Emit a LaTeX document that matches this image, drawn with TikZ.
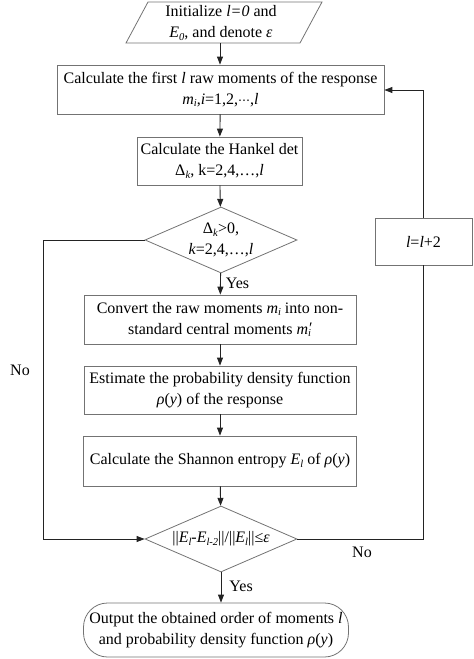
\documentclass[tikz,border=0pt]{standalone}
\usepackage{fontspec}
\setmainfont{Liberation Serif}
\newfontfamily\djs{DejaVu Sans}
\usetikzlibrary{arrows.meta,shapes.geometric}
\definecolor{boxgray}{RGB}{115,115,115}
\definecolor{linecol}{RGB}{35,35,35}
\newcommand\lo[1]{\raisebox{-0.35ex}{\fontsize{10.5}{10.5}\selectfont #1}}
\newcommand\cdotsx{{\djs\fontsize{12}{12}\selectfont ⋯}}
\begin{document}
\begin{tikzpicture}[x=1pt,y=-1pt,
  txt/.style={font=\fontsize{16}{21}\selectfont, align=center, inner sep=0pt},
  box/.style={txt, draw=boxgray, line width=0.8pt},
  dia/.style={diamond, draw=boxgray, line width=0.8pt, inner sep=0pt, minimum width=152pt, minimum height=66pt},
  arr/.style={draw=linecol, line width=0.9pt, -{Triangle[length=8pt,width=6pt]}},
  con/.style={draw=linecol, line width=0.9pt}]
\useasboundingbox (0,0) rectangle (474,659);

% start (parallelogram)
\coordinate (pbl) at (126,43);
\coordinate (ptl) at (148,2);
\coordinate (ptr) at (322,2);
\coordinate (pbr) at (300,43);
\draw[draw=boxgray, line width=0.8pt] (pbl) -- (ptl) -- (ptr) -- (pbr) -- cycle;
\node[txt] (init) at (221,23) {Initialize \textit{l=0} and\\\textit{E\lo{0}}, and denote \textit{ε}};
\coordinate (pout) at (220,43);

\node[box, minimum width=327pt, minimum height=49pt] (b1) at (220.5,89.5)
  {Calculate the first \textit{l} raw moments of the response\\\textit{m\lo{i}},\textit{i}=1,2,\cdotsx,\textit{l}};
\node[box, minimum width=165pt, minimum height=48pt] (b2) at (219.5,161)
  {Calculate the Hankel det\\Δ\lo{\textit{k}}, k=2,4,…,\textit{l}};
\node[dia] (d1) at (221,240) {};
\node[txt] (d1t) at (d1.center) {Δ\lo{\textit{k}}>0,\\\textit{k}=2,4,…,\textit{l}};
\node[box, minimum width=97pt, minimum height=47pt] (inc) at (423.5,241.5) {\textit{l}=\textit{l}+2};
\node[box, minimum width=272pt, minimum height=49pt] (b3) at (220,319.5)
  {Convert the raw moments \textit{m\lo{i}} into non-\\standard central moments \textit{m}\rlap{\lo{\textit{i}}}\raisebox{0.1ex}{\textit{′}}\hspace{2pt}};
\node[box, minimum width=272pt, minimum height=48pt] (b4) at (220,390)
  {Estimate the probability density function\\\textit{ρ}(\textit{y}) of the response};
\node[box, minimum width=273pt, minimum height=50pt] (b5) at (220,461)
  {Calculate the Shannon entropy \textit{E\lo{l}} of \textit{ρ}(\textit{y})};
\node[dia] (d2) at (221,539) {};
\node[txt] (d2t) at (d2.center) {||\textit{E\lo{l}}-\textit{E\lo{l-2}}||/||\textit{E\lo{l}}||≤\textit{ε}};
\node[box, rounded corners=24pt, minimum width=265pt, minimum height=54pt] (out) at (216,630)
  {Output the obtained order of moments \textit{l}\\and probability density function \textit{ρ}(\textit{y})};

% connectors
\draw[arr] (pout) -- (b1.north -| pout);
\draw[arr] (b1) -- (b2);
\draw[arr] (b2) -- (d1);
\draw[arr] (d1) -- node[txt, right=5pt, pos=0.45] (yes1) {Yes} (b3);
\draw[arr] (b3) -- (b4);
\draw[arr] (b4) -- (b5);
\draw[arr] (b5) -- (d2);
\draw[arr] (d2.south) -- node[txt, right=8pt, pos=0.45] (yes2) {Yes} (out.north -| d2.south);

\coordinate (lc1) at (43,240);
\coordinate (lc2) at (43,539);
\draw[arr] (d1.west) -- (lc1) -- (lc2) -- (d2.west);
\node[txt] (no1) at (20,370) {No};

\coordinate (rc1) at (423,539);
\coordinate (rc2) at (423,90);
\draw[con] (d2.east) -- (rc1) -- (inc.south -| rc1);
\draw[arr] (inc.north -| rc2) -- (rc2) -- (b1.east |- rc2);
\node[txt] (no2) at (362,552) {No};
\end{tikzpicture}
\end{document}
